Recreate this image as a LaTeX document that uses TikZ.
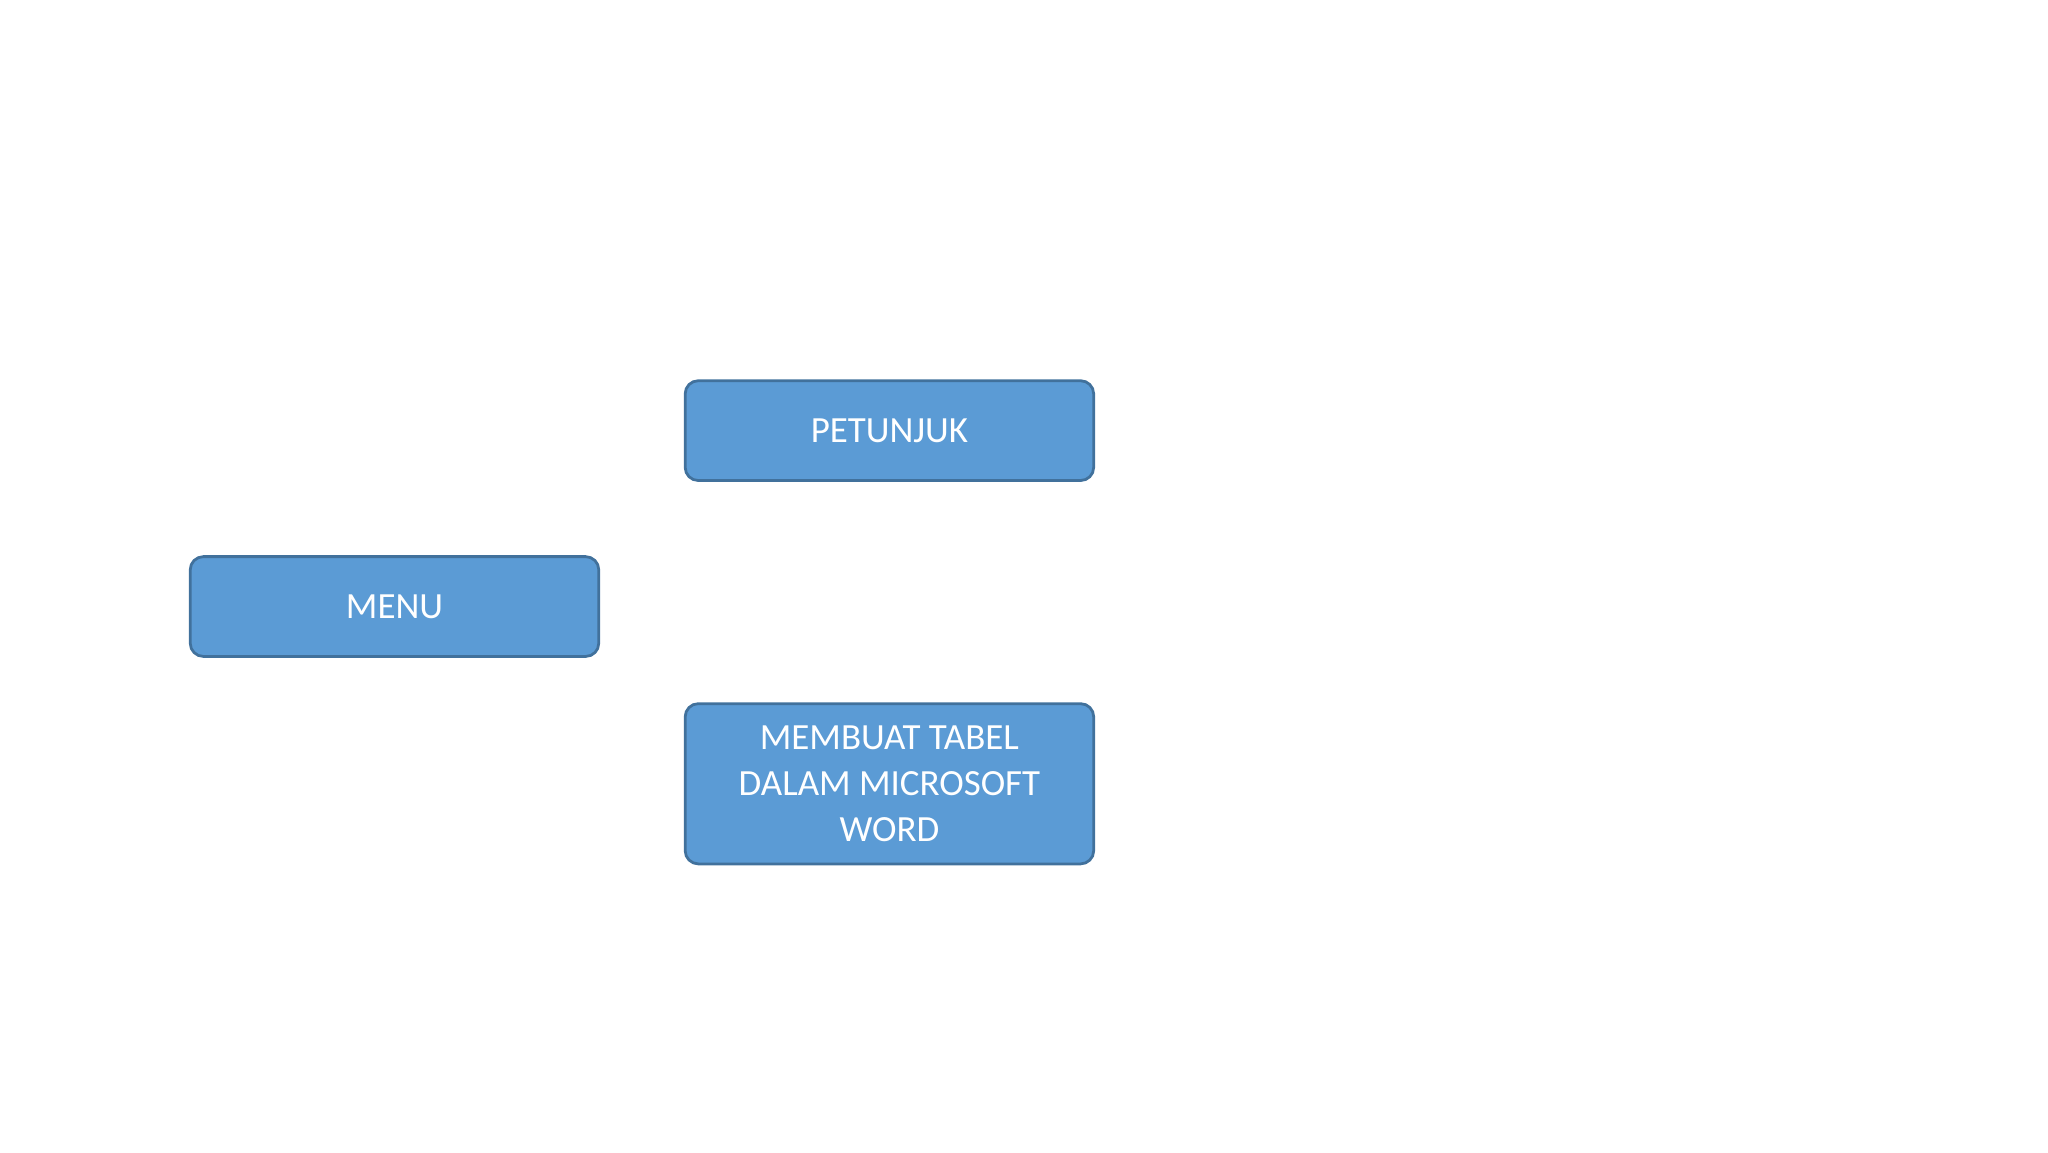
\documentclass[tikz,border=0pt]{standalone}
\usepackage{fontspec}
\setmainfont{Carlito}
\definecolor{boxfill}{HTML}{5B9BD5}
\definecolor{boxline}{HTML}{41719C}
\begin{document}
\begin{tikzpicture}[x=0.01cm,y=-0.01cm,
  box/.style={draw=boxline,fill=boxfill,line width=0.6pt,rounded corners=0.1cm,
    minimum width=3.11cm,text=white,font=\fontsize{8pt}{10pt}\selectfont,
    align=center,inner sep=0pt}]
\useasboundingbox (0,0) rectangle (1560,877.5);
\node[box,minimum height=0.76cm] (pet) at (677.5,328) {PETUNJUK};
\node[box,minimum height=0.76cm] (menu) at (300.5,462) {MENU};
\node[box,minimum height=1.22cm] (mem) at (677.5,597) {MEMBUAT TABEL\\DALAM MICROSOFT\\WORD};
\end{tikzpicture}
\end{document}
